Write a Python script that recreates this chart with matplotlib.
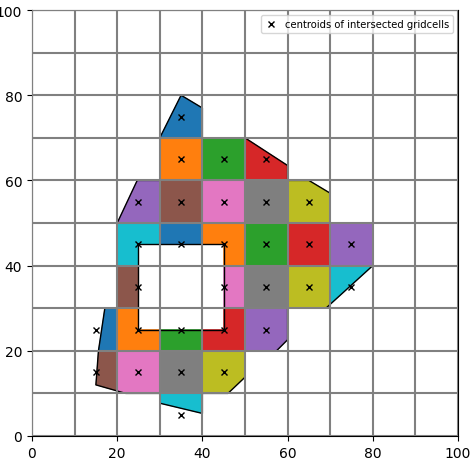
import matplotlib
matplotlib.use("Agg")
import matplotlib.pyplot as plt
from matplotlib.path import Path
from matplotlib.patches import PathPatch, Rectangle
import numpy as np

# polygon exterior (x, y)
outer_x = [35, 40, 40, 50, 60, 60, 65, 70, 70, 80, 80, 69, 60, 60, 57.4, 50, 50, 46, 40, 40, 30, 30, 22, 15, 15.6, 17.1, 20, 20, 24.7, 30, 30]
outer_y = [80, 77, 70, 70, 63.5, 60, 60, 57, 50, 50, 40, 30, 30, 22.6, 20, 20, 13.8, 10, 10, 5.3, 7.7, 10, 10, 12, 20, 30, 30, 50, 60, 60, 70]
# hole
hole_x = [25, 45, 45, 25]
hole_y = [25, 25, 45, 45]

# grid
grid_step = 10
grid_min, grid_max = 0, 100

# centroids of intersected gridcells (in drawing order: top row first, left to right)
cent_x = [35,
          35, 45, 55,
          25, 35, 45, 55, 65,
          25, 35, 45, 55, 65, 75,
          25, 45, 55, 65, 75,
          15, 25, 35, 45, 55,
          15, 25, 35, 45,
          35]
cent_y = [75,
          65, 65, 65,
          55, 55, 55, 55, 55,
          45, 45, 45, 45, 45, 45,
          35, 35, 35, 35, 35,
          25, 25, 25, 25, 25,
          15, 15, 15, 15,
          5]

fig = plt.figure(figsize=(4.74, 4.60), dpi=100)
ax = fig.add_axes([0.0675, 0.05, 0.8987, 0.926])

# build polygon path with hole (hole with opposite orientation to the exterior)
ext = list(zip(outer_x, outer_y))
hol = list(zip(hole_x, hole_y))
verts = ext + [ext[0]] + hol + [hol[0]]
codes = ([Path.MOVETO] + [Path.LINETO] * (len(ext) - 1) + [Path.CLOSEPOLY] +
         [Path.MOVETO] + [Path.LINETO] * (len(hol) - 1) + [Path.CLOSEPOLY])
poly_path = Path(verts, codes)

colors = plt.rcParams['axes.prop_cycle'].by_key()['color']
half = grid_step / 2
for i, (cx, cy) in enumerate(zip(cent_x, cent_y)):
    c = colors[i % len(colors)]
    patch = PathPatch(poly_path, facecolor=c, edgecolor=c, lw=0.5, zorder=1)
    ax.add_patch(patch)
    rect = Rectangle((cx - half, cy - half), grid_step, grid_step,
                     transform=ax.transData)
    patch.set_clip_path(rect)

# polygon boundary
ax.plot(outer_x + [outer_x[0]], outer_y + [outer_y[0]], color='black', lw=1, zorder=2)
ax.plot(hole_x + [hole_x[0]], hole_y + [hole_y[0]], color='black', lw=1, zorder=2)

# grid lines
ticks = np.arange(grid_min, grid_max + grid_step, grid_step)
for t in ticks:
    ax.plot([t, t], [grid_min, grid_max], color='grey', lw=1.5, zorder=3)
    ax.plot([grid_min, grid_max], [t, t], color='grey', lw=1.5, zorder=3)

ax.plot(cent_x, cent_y, 'x', color='black', ms=5, mew=1, linestyle='none',
        label='centroids of intersected gridcells', zorder=4)

ax.set_xlim(0, 100)
ax.set_ylim(0, 100)
ax.set_xticks(np.arange(0, 101, 20))
ax.set_yticks(np.arange(0, 101, 20))
ax.legend(loc='upper right', fontsize=7.2, handlelength=1.2)

fig.savefig('out.png', dpi=100)
